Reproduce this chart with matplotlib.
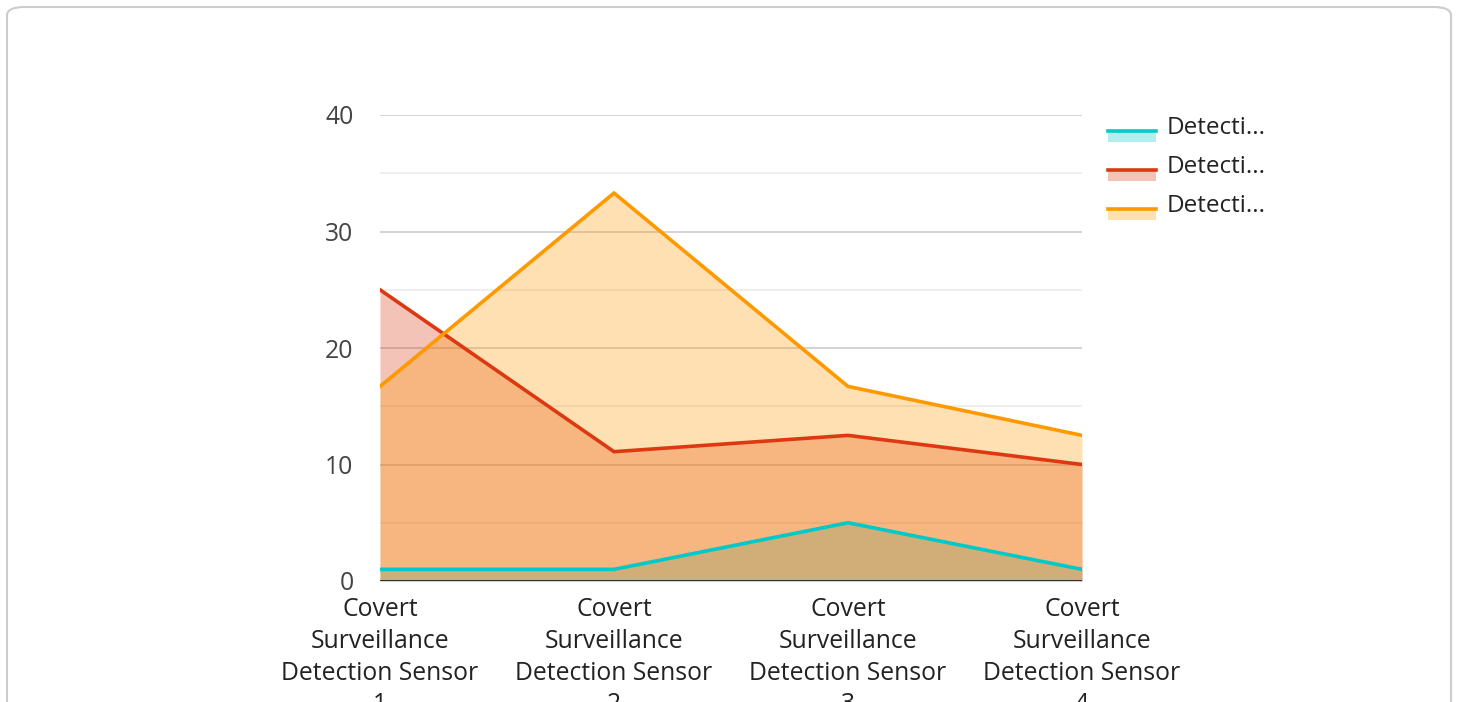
import matplotlib.pyplot as plt
from matplotlib.patches import FancyBboxPatch, Rectangle
from matplotlib.lines import Line2D

plt.rcParams['font.family'] = ['Open Sans', 'DejaVu Sans']

categories = ['Covert\nSurveillance\nDetection Sensor\n1',
              'Covert\nSurveillance\nDetection Sensor\n2',
              'Covert\nSurveillance\nDetection Sensor\n3',
              'Covert\nSurveillance\nDetection Sensor\n4']
series_names = ['Detecti...', 'Detecti...', 'Detecti...']
cyan_vals = [1, 1, 5, 1]
red_vals = [25, 11.1, 12.5, 10]
orange_vals = [16.7, 33.3, 16.7, 12.5]
colors = ['#00c9c9', '#dc3912', '#ff9900']
y_ticks = [0, 10, 20, 30, 40]

fig = plt.figure(figsize=(14.58, 7.02), dpi=100)
W, H = 1458, 702

# rounded card border
card = FancyBboxPatch((7 / W, -20 / H), 1444 / W, (702 - 7 + 20) / H,
                      boxstyle='round,pad=0,rounding_size=0.012',
                      transform=fig.transFigure, facecolor='white',
                      edgecolor='#cccccc', linewidth=1.5, zorder=-5)
fig.add_artist(card)

ax = fig.add_axes([380 / W, 1 - 581 / H, 702 / W, 466 / H])
ax.set_facecolor('none')
x = list(range(len(categories)))

for vals, c in zip([cyan_vals, red_vals, orange_vals], colors):
    ax.fill_between(x, 0, vals, color=c, alpha=0.3, linewidth=0, zorder=2)
for vals, c in zip([cyan_vals, red_vals, orange_vals], colors):
    ax.plot(x, vals, color=c, linewidth=2.6, zorder=3, solid_joinstyle='miter')

ax.set_xlim(0, 3)
ax.set_ylim(0, 40)
ax.set_yticks(y_ticks)
ax.set_yticks([5, 15, 25, 35], minor=True)
ax.grid(True, which='major', axis='y', color='#cccccc', linewidth=1.2, zorder=1)
ax.grid(True, which='minor', axis='y', color='#ebebeb', linewidth=1.2, zorder=1)
ax.axhline(0, color='#333333', linewidth=2.2, zorder=4)
for s in ax.spines.values():
    s.set_visible(False)
ax.tick_params(axis='both', which='both', length=0)
ax.tick_params(axis='y', labelsize=17.8, labelcolor='#444444', pad=19)
ax.set_xticks(x)
ax.set_xticklabels(categories, fontsize=17.8, color='#222222', linespacing=1.36)
ax.tick_params(axis='x', pad=11.5)
ax.set_axisbelow(True)

# legend
for i, (name, c) in enumerate(zip(series_names, colors)):
    yc = 131 + i * 39
    fig.add_artist(Rectangle((1108 / W, 1 - (yc + 11) / H), 48 / W, 12 / H,
                             transform=fig.transFigure, facecolor=c, alpha=0.3,
                             edgecolor='none'))
    fig.add_artist(Line2D([1108 / W, 1156 / W], [1 - yc / H, 1 - yc / H],
                          transform=fig.transFigure, color=c, linewidth=2.6))
    fig.text(1167 / W, 1 - (yc - 3) / H, name, fontsize=17.5, color='#222222',
             va='center', ha='left')

fig.savefig('out.png', dpi=100)
